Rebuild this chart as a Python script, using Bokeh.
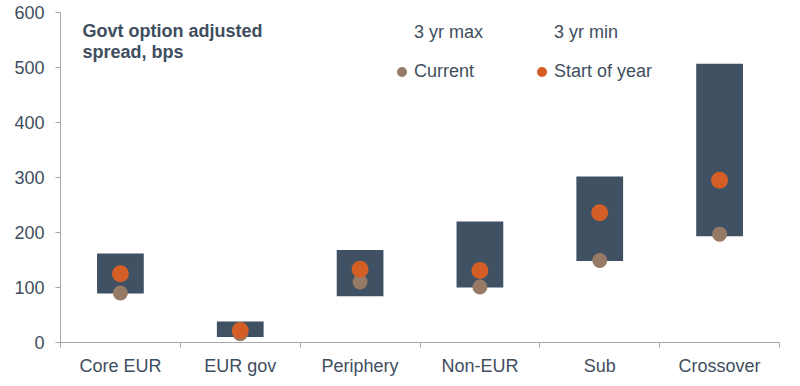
from bokeh.plotting import figure
from bokeh.models import (ColumnDataSource, FixedTicker, Range1d, Legend, LegendItem, Label)
from bokeh.embed import file_html
from bokeh.resources import INLINE

categories = ["Core EUR", "EUR gov", "Periphery", "Non-EUR", "Sub", "Crossover"]
max_3yr = [162, 38, 168, 220, 302, 507]
min_3yr = [89, 10, 84, 100, 148, 193]
current = [90, 16, 110, 101, 149, 197]
start_of_year = [125, 22, 133, 131, 236, 295]
y_ticks = [0, 100, 200, 300, 400, 500, 600]

BAR = "#3F5163"
ORANGE = "#D45F26"
BROWN = "#967A66"
TEXT = "#3E4E5E"
AXIS = "#A6A6A6"
FONT = "Liberation Sans"
FS = "18px"

xs = [i + 0.5 for i in range(len(categories))]
src = ColumnDataSource(dict(x=xs, cat=categories, mx=max_3yr, mn=min_3yr,
                            cur=current, soy=start_of_year))

p = figure(width=792, height=378, output_backend="svg", toolbar_location=None,
           x_range=Range1d(0, len(categories)), y_range=Range1d(0, 600),
           min_border_left=60, min_border_right=13, min_border_top=12, min_border_bottom=36)
p.outline_line_color = None
p.grid.visible = False
p.background_fill_color = "white"

p.vbar(x="x", bottom="mn", top="mx", width=0.39, source=src,
       fill_color=BAR, line_color=None)
r_max = p.scatter(x="x", y="mx", source=src, size=1, fill_alpha=0, line_alpha=0)
r_min = p.scatter(x="x", y="mn", source=src, size=1, fill_alpha=0, line_alpha=0)
r_cur = p.scatter(x="x", y="cur", source=src, size=15, fill_color=BROWN, line_color=None)
r_soy = p.scatter(x="x", y="soy", source=src, size=17, fill_color=ORANGE, line_color=None)

# y axis
p.yaxis.ticker = FixedTicker(ticks=y_ticks)
p.yaxis.axis_line_color = AXIS
p.yaxis.major_tick_line_color = AXIS
p.yaxis.major_tick_out = 5
p.yaxis.major_tick_in = 0
p.yaxis.minor_tick_line_color = None
p.yaxis.major_label_standoff = 11
p.yaxis.major_label_text_font = FONT
p.yaxis.major_label_text_font_size = FS
p.yaxis.major_label_text_color = TEXT

# x axis: labels at centres, tick marks at category boundaries
p.xaxis.ticker = FixedTicker(ticks=xs, minor_ticks=list(range(len(categories) + 1)))
p.xaxis.major_label_overrides = {x: c for x, c in zip(xs, categories)}
p.xaxis.axis_line_color = AXIS
p.xaxis.major_tick_line_color = None
p.xaxis.major_tick_out = 0
p.xaxis.major_tick_in = 0
p.xaxis.minor_tick_line_color = AXIS
p.xaxis.minor_tick_out = 5
p.xaxis.minor_tick_in = 0
p.xaxis.major_label_standoff = 8
p.xaxis.major_label_text_font = FONT
p.xaxis.major_label_text_font_size = FS
p.xaxis.major_label_text_color = TEXT

# title inside the plot
for txt, yy in [("Govt option adjusted", 311.7), ("spread, bps", 290.7)]:
    p.add_layout(Label(x=22, y=yy, x_units="screen", y_units="screen", text=txt,
                       text_font=FONT, text_font_size=FS, text_font_style="bold",
                       text_color=TEXT, text_baseline="alphabetic"))

def make_legend(items, loc):
    lg = Legend(items=items, location=loc, orientation="horizontal",
                glyph_width=25, glyph_height=25, label_standoff=-8,
                label_width=115, spacing=0, padding=0, margin=0,
                border_line_color=None, background_fill_alpha=0,
                label_text_font=FONT, label_text_font_size=FS,
                label_text_color=TEXT)
    p.add_layout(lg)

make_legend([LegendItem(label="3 yr max", renderers=[r_max]),
             LegendItem(label="3 yr min", renderers=[r_min])], (329, 297))
make_legend([LegendItem(label="Current", renderers=[r_cur]),
             LegendItem(label="Start of year", renderers=[r_soy])], (329, 258))

open("out.html", "w").write(file_html(p, INLINE))
